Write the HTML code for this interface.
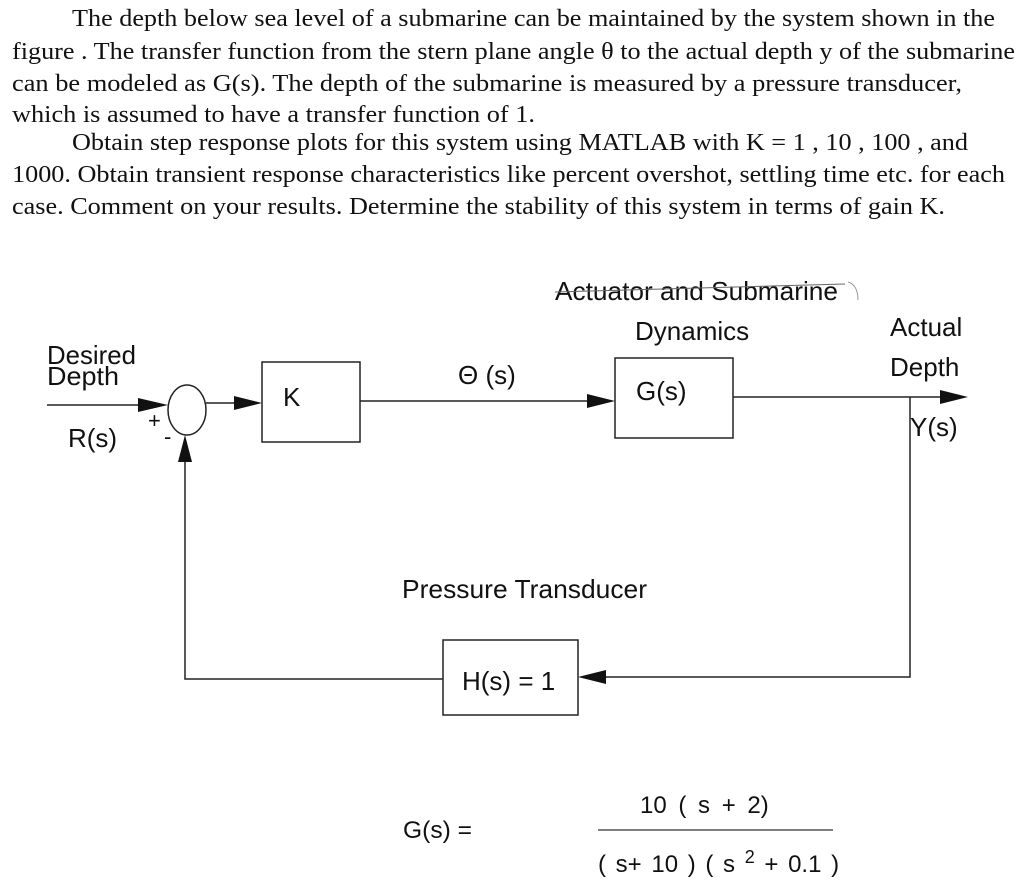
<!DOCTYPE html>
<html><head><meta charset="utf-8"><style>
html,body{margin:0;padding:0;background:#fff;}
body{width:1024px;height:895px;overflow:hidden;}
svg{display:block;}
.t{font-family:"Liberation Serif",serif;font-size:24px;fill:#111;}
.s{font-family:"Liberation Sans",sans-serif;font-size:26px;fill:#111;}
</style></head><body>
<svg width="1024" height="895" viewBox="0 0 1024 895" xmlns="http://www.w3.org/2000/svg">
<g class="t">
<text x="72" y="26" textLength="923" lengthAdjust="spacingAndGlyphs">The depth below sea level of a submarine can be maintained by the system shown in the</text>
<text x="12" y="59" textLength="1003" lengthAdjust="spacingAndGlyphs">figure . The transfer function from the stern plane angle θ to the actual depth y of the submarine</text>
<text x="12" y="91" textLength="950" lengthAdjust="spacingAndGlyphs">can be modeled as G(s). The depth of the submarine is measured by a pressure transducer,</text>
<text x="12" y="122" textLength="523" lengthAdjust="spacingAndGlyphs">which is assumed to have a transfer function of 1.</text>
<text x="72" y="150" textLength="896" lengthAdjust="spacingAndGlyphs">Obtain step response plots for this system using MATLAB with K = 1 , 10 , 100 , and</text>
<text x="12" y="182" textLength="993" lengthAdjust="spacingAndGlyphs">1000. Obtain transient response characteristics like percent overshot, settling time etc. for each</text>
<text x="12" y="214" textLength="933" lengthAdjust="spacingAndGlyphs">case. Comment on your results. Determine the stability of this system in terms of gain K.</text>
</g>
<g stroke="#222" stroke-width="1.5" fill="none">
<line x1="47" y1="405" x2="150" y2="405"/>
<ellipse cx="187" cy="410" rx="19" ry="25"/>
<line x1="206" y1="403" x2="240" y2="403"/>
<rect x="262" y="362" width="98" height="80"/>
<line x1="360" y1="401" x2="595" y2="401"/>
<rect x="615" y="358" width="118" height="80"/>
<line x1="733" y1="397" x2="945" y2="397"/>
<polyline points="910,397 910,677 600,677"/>
<rect x="443" y="640" width="135" height="75"/>
<polyline points="443,679 185,679 185,455"/>
</g>
<g fill="#111">
<polygon points="138,398 168,405 138,412"/>
<polygon points="234,396 262,403 234,410"/>
<polygon points="587,394 615,401 587,408"/>
<polygon points="940,390 968,397 940,404"/>
<polygon points="606,670 578,677 606,684"/>
<polygon points="178,462 185,435 192,462"/>
</g>
<g class="s">
<text x="47" y="364" textLength="89" lengthAdjust="spacingAndGlyphs">Desired</text>
<text x="47" y="385" textLength="72" lengthAdjust="spacingAndGlyphs">Depth</text>
<text x="68" y="447">R(s)</text>
<text x="148" y="428" font-size="22">+</text>
<text x="164" y="444" font-size="22">-</text>
<text x="283" y="406">K</text>
<text x="458" y="384">Θ (s)</text>
<text x="555" y="300" textLength="283" lengthAdjust="spacingAndGlyphs">Actuator and Submarine</text>
<text x="635" y="340">Dynamics</text>
<text x="636" y="400">G(s)</text>
<text x="890" y="336">Actual</text>
<text x="890" y="376">Depth</text>
<text x="910" y="436">Y(s)</text>
<text x="402" y="598" textLength="245" lengthAdjust="spacingAndGlyphs">Pressure Transducer</text>
<text x="462" y="690">H(s) = 1</text>
<text x="403" y="838" font-size="24" textLength="69" lengthAdjust="spacingAndGlyphs">G(s) =</text>
<text x="640" y="813" font-size="24" style="word-spacing:5px">10 ( s + 2)</text>
<text x="598" y="872" font-size="24" style="word-spacing:3px">( s+ 10 ) ( s <tspan font-size="18" dy="-9">2</tspan><tspan dy="9"> + 0.1 )</tspan></text>
</g>
<line x1="555" y1="292" x2="845" y2="284" stroke="#666" stroke-width="1"/>
<path d="M848,282 q10,3 10,18" stroke="#999" fill="none"/>
<line x1="598" y1="830" x2="833" y2="830" stroke="#333" stroke-width="1.2"/>
</svg>
</body></html>
